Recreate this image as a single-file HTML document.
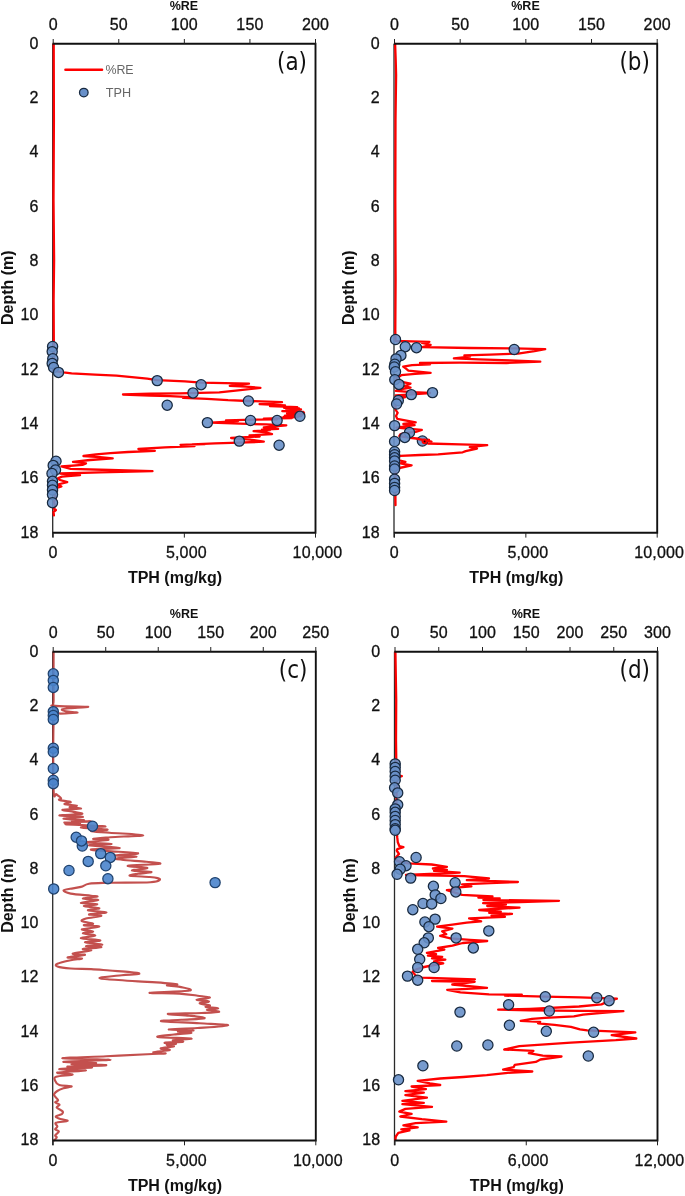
<!DOCTYPE html>
<html><head><meta charset="utf-8"><title>TPH and %RE depth profiles</title>
<style>
html,body{margin:0;padding:0;background:#fff;}
svg{display:block;}
text{font-family:"Liberation Sans",sans-serif;fill:#111;}
.t{font-size:16px;stroke:#111;stroke-width:0.3px;letter-spacing:0.15px;}
.b{font-weight:bold;}
.tag{font-family:"DejaVu Sans","Liberation Sans",sans-serif;font-size:21.5px;fill:#111;}
.lg{font-size:12.4px;fill:#666;}
</style></head><body>
<svg width="685" height="1196" viewBox="0 0 685 1196">
<rect width="685" height="1196" fill="#fff"/>

<g id="panel-a">
<line x1="52.7" y1="43.8" x2="52.7" y2="537.5999999999999" stroke="#2a2a2a" stroke-width="1.3"/>
<polyline points="53.7,43.8 53.9,120.0 53.5,200.0 54.1,260.0 53.6,300.0 53.8,340.0 53.7,370.8 63.4,372.4 71.6,373.4 95.0,374.6 116.5,375.7 147.2,378.7 157.0,380.2 185.0,381.4 201.0,382.6 225.0,383.2 249.0,383.7 229.8,385.8 246.0,386.6 260.4,387.9 240.3,390.1 219.3,392.4 180.0,393.4 150.0,393.6 123.0,394.5 150.0,395.6 170.0,396.2 190.0,397.2 183.0,397.8 207.0,398.9 228.0,400.2 248.5,401.0 282.0,402.1 259.6,404.2 285.0,405.4 270.0,406.2 297.2,407.1 284.0,407.8 299.0,408.4 286.0,408.9 301.0,409.4 288.0,410.0 299.0,410.5 282.3,411.2 303.4,411.8 290.0,412.4 304.0,412.9 287.0,413.5 304.0,414.0 288.0,414.6 302.0,415.1 285.0,415.7 301.0,416.2 284.0,416.7 298.0,417.1 280.0,417.6 292.0,418.0 263.8,418.6 277.0,419.3 245.0,419.8 226.0,420.4 238.0,421.2 210.7,422.7 247.4,423.9 266.0,424.4 286.3,425.3 263.8,427.4 278.1,428.8 262.0,429.6 270.0,430.2 253.6,431.1 266.0,432.4 272.0,434.1 249.5,435.5 259.7,436.5 231.1,438.0 250.0,439.6 263.8,441.7 239.3,442.7 215.0,443.4 192.3,444.3 205.0,444.0 180.5,444.8 194.5,446.2 165.0,447.4 138.4,449.0 154.8,450.9 128.0,452.0 110.4,453.2 96.0,454.4 83.5,456.0 100.0,457.2 112.7,458.4 90.0,460.0 73.0,461.9 86.0,463.4 82.4,464.9 61.4,466.5 70.7,468.9 110.0,470.0 152.5,471.2 100.0,472.4 60.2,473.5 80.0,475.2 62.0,476.6 57.8,478.2 60.0,480.0 67.2,482.2 57.8,484.5 61.4,486.4 55.3,488.5 57.0,491.0 54.3,494.0 55.8,498.0 53.9,502.0 55.1,506.0 53.7,508.5 55.9,510.0 53.5,512.0 53.9,515.3" fill="none" stroke="#ff0000" stroke-width="2.3" stroke-linejoin="round" stroke-linecap="round"/>
<path d="M52.6,43.8 H315.5 V532.8 H52.6" fill="none" stroke="#111" stroke-width="1.9"/>
<line x1="53.20" y1="39.0" x2="53.20" y2="43.8" stroke="#222" stroke-width="1"/>
<text class="t" x="53.20" y="30.0" text-anchor="middle">0</text>
<line x1="118.78" y1="39.0" x2="118.78" y2="43.8" stroke="#222" stroke-width="1"/>
<text class="t" x="118.78" y="30.0" text-anchor="middle">50</text>
<line x1="184.35" y1="39.0" x2="184.35" y2="43.8" stroke="#222" stroke-width="1"/>
<text class="t" x="184.35" y="30.0" text-anchor="middle">100</text>
<line x1="249.93" y1="39.0" x2="249.93" y2="43.8" stroke="#222" stroke-width="1"/>
<text class="t" x="249.93" y="30.0" text-anchor="middle">150</text>
<line x1="315.50" y1="39.0" x2="315.50" y2="43.8" stroke="#222" stroke-width="1"/>
<text class="t" x="315.50" y="30.0" text-anchor="middle">200</text>
<line x1="53.20" y1="532.8" x2="53.20" y2="537.5999999999999" stroke="#222" stroke-width="1"/>
<text class="t" x="53.00" y="558.0" text-anchor="middle">0</text>
<line x1="184.35" y1="532.8" x2="184.35" y2="537.5999999999999" stroke="#222" stroke-width="1"/>
<text class="t" x="186.35" y="558.0" text-anchor="middle">5,000</text>
<line x1="315.50" y1="532.8" x2="315.50" y2="537.5999999999999" stroke="#222" stroke-width="1"/>
<text class="t" x="317.50" y="558.0" text-anchor="middle">10,000</text>
<text class="t" x="38.6" y="48.6" text-anchor="end">0</text>
<text class="t" x="38.6" y="102.9" text-anchor="end">2</text>
<text class="t" x="38.6" y="157.3" text-anchor="end">4</text>
<text class="t" x="38.6" y="211.6" text-anchor="end">6</text>
<text class="t" x="38.6" y="265.9" text-anchor="end">8</text>
<text class="t" x="38.6" y="320.3" text-anchor="end">10</text>
<text class="t" x="38.6" y="374.6" text-anchor="end">12</text>
<text class="t" x="38.6" y="428.9" text-anchor="end">14</text>
<text class="t" x="38.6" y="483.3" text-anchor="end">16</text>
<text class="t" x="38.6" y="537.6" text-anchor="end">18</text>
<text class="b" font-size="12.5" x="183.9" y="10.2" text-anchor="middle">%RE</text>
<text class="b" font-size="16" x="175.0" y="583.3" text-anchor="middle">TPH (mg/kg)</text>
<text class="b" font-size="16" transform="translate(13.0,287.7) rotate(-90)" text-anchor="middle">Depth (m)</text>
<text class="tag" transform="translate(277.0,69.8) scale(1,1.13)">(a)</text>
<circle cx="52.6" cy="346.5" r="5.1" fill="#6890c9" fill-opacity="0.9" stroke="#17293f" stroke-width="1.25"/>
<circle cx="52.2" cy="351.6" r="5.1" fill="#6890c9" fill-opacity="0.9" stroke="#17293f" stroke-width="1.25"/>
<circle cx="52.8" cy="358.7" r="5.1" fill="#6890c9" fill-opacity="0.9" stroke="#17293f" stroke-width="1.25"/>
<circle cx="52.2" cy="363.4" r="5.1" fill="#6890c9" fill-opacity="0.9" stroke="#17293f" stroke-width="1.25"/>
<circle cx="53.6" cy="367.5" r="5.1" fill="#6890c9" fill-opacity="0.9" stroke="#17293f" stroke-width="1.25"/>
<circle cx="58.5" cy="372.4" r="5.1" fill="#6890c9" fill-opacity="0.9" stroke="#17293f" stroke-width="1.25"/>
<circle cx="157.2" cy="380.6" r="5.1" fill="#6890c9" fill-opacity="0.9" stroke="#17293f" stroke-width="1.25"/>
<circle cx="201.1" cy="384.7" r="5.1" fill="#6890c9" fill-opacity="0.9" stroke="#17293f" stroke-width="1.25"/>
<circle cx="193.0" cy="392.9" r="5.1" fill="#6890c9" fill-opacity="0.9" stroke="#17293f" stroke-width="1.25"/>
<circle cx="167.2" cy="405.2" r="5.1" fill="#6890c9" fill-opacity="0.9" stroke="#17293f" stroke-width="1.25"/>
<circle cx="248.4" cy="401.0" r="5.1" fill="#6890c9" fill-opacity="0.9" stroke="#17293f" stroke-width="1.25"/>
<circle cx="299.9" cy="416.3" r="5.1" fill="#6890c9" fill-opacity="0.9" stroke="#17293f" stroke-width="1.25"/>
<circle cx="277.1" cy="420.5" r="5.1" fill="#6890c9" fill-opacity="0.9" stroke="#17293f" stroke-width="1.25"/>
<circle cx="250.5" cy="420.5" r="5.1" fill="#6890c9" fill-opacity="0.9" stroke="#17293f" stroke-width="1.25"/>
<circle cx="207.4" cy="422.6" r="5.1" fill="#6890c9" fill-opacity="0.9" stroke="#17293f" stroke-width="1.25"/>
<circle cx="239.3" cy="441.1" r="5.1" fill="#6890c9" fill-opacity="0.9" stroke="#17293f" stroke-width="1.25"/>
<circle cx="279.1" cy="445.2" r="5.1" fill="#6890c9" fill-opacity="0.9" stroke="#17293f" stroke-width="1.25"/>
<circle cx="56.0" cy="461.2" r="5.1" fill="#6890c9" fill-opacity="0.9" stroke="#17293f" stroke-width="1.25"/>
<circle cx="53.2" cy="465.4" r="5.1" fill="#6890c9" fill-opacity="0.9" stroke="#17293f" stroke-width="1.25"/>
<circle cx="55.5" cy="470.0" r="5.1" fill="#6890c9" fill-opacity="0.9" stroke="#17293f" stroke-width="1.25"/>
<circle cx="52.0" cy="473.5" r="5.1" fill="#6890c9" fill-opacity="0.9" stroke="#17293f" stroke-width="1.25"/>
<circle cx="52.5" cy="481.3" r="5.1" fill="#6890c9" fill-opacity="0.9" stroke="#17293f" stroke-width="1.25"/>
<circle cx="52.5" cy="485.2" r="5.1" fill="#6890c9" fill-opacity="0.9" stroke="#17293f" stroke-width="1.25"/>
<circle cx="52.5" cy="489.9" r="5.1" fill="#6890c9" fill-opacity="0.9" stroke="#17293f" stroke-width="1.25"/>
<circle cx="52.5" cy="494.6" r="5.1" fill="#6890c9" fill-opacity="0.9" stroke="#17293f" stroke-width="1.25"/>
<circle cx="52.5" cy="502.7" r="5.1" fill="#6890c9" fill-opacity="0.9" stroke="#17293f" stroke-width="1.25"/>
</g>
<g id="panel-b">
<line x1="394.0" y1="43.8" x2="394.0" y2="537.5999999999999" stroke="#2a2a2a" stroke-width="1.3"/>
<polyline points="395.1,43.8 395.7,60.0 396.1,75.0 395.5,120.0 395.3,200.0 395.6,280.0 395.3,330.0 395.5,341.0 412.0,341.4 429.4,341.8 422.0,343.0 430.6,344.9 422.4,347.2 470.0,348.0 514.0,348.4 545.2,349.1 534.5,351.2 518.0,353.6 490.0,354.6 464.4,355.4 470.0,356.6 453.9,358.4 478.4,359.3 510.0,360.4 540.3,361.7 506.5,363.0 460.0,362.6 420.0,363.0 430.0,364.4 412.0,365.2 403.2,366.6 406.0,368.6 408.4,370.6 430.6,372.9 415.0,373.8 401.4,375.2 396.5,378.0 397.0,381.0 410.5,383.6 404.4,386.2 410.5,387.7 400.0,389.4 395.7,390.9 412.0,392.2 430.0,393.0 412.0,394.4 395.7,395.4 405.4,397.1 395.9,399.0 395.5,409.7 397.7,412.8 396.0,416.0 397.3,418.9 415.7,422.4 403.4,424.0 414.6,425.1 396.5,427.7 410.0,428.8 421.8,429.8 415.7,431.8 404.0,433.2 400.3,434.3 399.3,436.0 412.0,438.0 429.0,440.0 422.0,441.6 427.9,443.5 460.0,444.3 487.2,445.1 469.8,447.2 477.0,448.6 465.7,451.1 462.7,452.3 450.0,453.4 438.1,454.3 420.0,455.0 400.3,455.8 396.1,458.0 398.0,460.0 405.4,461.9 400.3,463.3 411.6,465.4 399.3,468.0 395.7,470.0 395.3,485.0 395.5,505.2" fill="none" stroke="#ff0000" stroke-width="2.3" stroke-linejoin="round" stroke-linecap="round"/>
<path d="M393.9,43.8 H657.2 V532.8 H393.9" fill="none" stroke="#111" stroke-width="1.9"/>
<line x1="394.50" y1="39.0" x2="394.50" y2="43.8" stroke="#222" stroke-width="1"/>
<text class="t" x="394.50" y="30.0" text-anchor="middle">0</text>
<line x1="460.18" y1="39.0" x2="460.18" y2="43.8" stroke="#222" stroke-width="1"/>
<text class="t" x="460.18" y="30.0" text-anchor="middle">50</text>
<line x1="525.85" y1="39.0" x2="525.85" y2="43.8" stroke="#222" stroke-width="1"/>
<text class="t" x="525.85" y="30.0" text-anchor="middle">100</text>
<line x1="591.53" y1="39.0" x2="591.53" y2="43.8" stroke="#222" stroke-width="1"/>
<text class="t" x="591.53" y="30.0" text-anchor="middle">150</text>
<line x1="657.20" y1="39.0" x2="657.20" y2="43.8" stroke="#222" stroke-width="1"/>
<text class="t" x="657.20" y="30.0" text-anchor="middle">200</text>
<line x1="394.50" y1="532.8" x2="394.50" y2="537.5999999999999" stroke="#222" stroke-width="1"/>
<text class="t" x="394.30" y="558.0" text-anchor="middle">0</text>
<line x1="525.85" y1="532.8" x2="525.85" y2="537.5999999999999" stroke="#222" stroke-width="1"/>
<text class="t" x="527.85" y="558.0" text-anchor="middle">5,000</text>
<line x1="657.20" y1="532.8" x2="657.20" y2="537.5999999999999" stroke="#222" stroke-width="1"/>
<text class="t" x="659.20" y="558.0" text-anchor="middle">10,000</text>
<text class="t" x="379.9" y="48.6" text-anchor="end">0</text>
<text class="t" x="379.9" y="102.9" text-anchor="end">2</text>
<text class="t" x="379.9" y="157.3" text-anchor="end">4</text>
<text class="t" x="379.9" y="211.6" text-anchor="end">6</text>
<text class="t" x="379.9" y="265.9" text-anchor="end">8</text>
<text class="t" x="379.9" y="320.3" text-anchor="end">10</text>
<text class="t" x="379.9" y="374.6" text-anchor="end">12</text>
<text class="t" x="379.9" y="428.9" text-anchor="end">14</text>
<text class="t" x="379.9" y="483.3" text-anchor="end">16</text>
<text class="t" x="379.9" y="537.6" text-anchor="end">18</text>
<text class="b" font-size="12.5" x="525.5" y="10.2" text-anchor="middle">%RE</text>
<text class="b" font-size="16" x="516.3" y="583.3" text-anchor="middle">TPH (mg/kg)</text>
<text class="b" font-size="16" transform="translate(354.3,287.7) rotate(-90)" text-anchor="middle">Depth (m)</text>
<text class="tag" transform="translate(619.4,69.8) scale(1,1.13)">(b)</text>
<circle cx="395.5" cy="339.5" r="5.1" fill="#6890c9" fill-opacity="0.9" stroke="#17293f" stroke-width="1.25"/>
<circle cx="405.3" cy="346.7" r="5.1" fill="#6890c9" fill-opacity="0.9" stroke="#17293f" stroke-width="1.25"/>
<circle cx="416.5" cy="347.7" r="5.1" fill="#6890c9" fill-opacity="0.9" stroke="#17293f" stroke-width="1.25"/>
<circle cx="514.2" cy="349.5" r="5.1" fill="#6890c9" fill-opacity="0.9" stroke="#17293f" stroke-width="1.25"/>
<circle cx="400.9" cy="355.4" r="5.1" fill="#6890c9" fill-opacity="0.9" stroke="#17293f" stroke-width="1.25"/>
<circle cx="396.0" cy="358.9" r="5.1" fill="#6890c9" fill-opacity="0.9" stroke="#17293f" stroke-width="1.25"/>
<circle cx="394.8" cy="364.2" r="5.1" fill="#6890c9" fill-opacity="0.9" stroke="#17293f" stroke-width="1.25"/>
<circle cx="394.3" cy="367.0" r="5.1" fill="#6890c9" fill-opacity="0.9" stroke="#17293f" stroke-width="1.25"/>
<circle cx="395.5" cy="371.7" r="5.1" fill="#6890c9" fill-opacity="0.9" stroke="#17293f" stroke-width="1.25"/>
<circle cx="394.8" cy="379.7" r="5.1" fill="#6890c9" fill-opacity="0.9" stroke="#17293f" stroke-width="1.25"/>
<circle cx="399.0" cy="384.4" r="5.1" fill="#6890c9" fill-opacity="0.9" stroke="#17293f" stroke-width="1.25"/>
<circle cx="411.3" cy="394.6" r="5.1" fill="#6890c9" fill-opacity="0.9" stroke="#17293f" stroke-width="1.25"/>
<circle cx="432.5" cy="392.6" r="5.1" fill="#6890c9" fill-opacity="0.9" stroke="#17293f" stroke-width="1.25"/>
<circle cx="398.3" cy="400.5" r="5.1" fill="#6890c9" fill-opacity="0.9" stroke="#17293f" stroke-width="1.25"/>
<circle cx="396.6" cy="404.0" r="5.1" fill="#6890c9" fill-opacity="0.9" stroke="#17293f" stroke-width="1.25"/>
<circle cx="394.6" cy="425.6" r="5.1" fill="#6890c9" fill-opacity="0.9" stroke="#17293f" stroke-width="1.25"/>
<circle cx="409.5" cy="432.5" r="5.1" fill="#6890c9" fill-opacity="0.9" stroke="#17293f" stroke-width="1.25"/>
<circle cx="404.8" cy="437.4" r="5.1" fill="#6890c9" fill-opacity="0.9" stroke="#17293f" stroke-width="1.25"/>
<circle cx="394.6" cy="441.5" r="5.1" fill="#6890c9" fill-opacity="0.9" stroke="#17293f" stroke-width="1.25"/>
<circle cx="422.4" cy="441.0" r="5.1" fill="#6890c9" fill-opacity="0.9" stroke="#17293f" stroke-width="1.25"/>
<circle cx="394.6" cy="451.7" r="5.1" fill="#6890c9" fill-opacity="0.9" stroke="#17293f" stroke-width="1.25"/>
<circle cx="394.6" cy="454.7" r="5.1" fill="#6890c9" fill-opacity="0.9" stroke="#17293f" stroke-width="1.25"/>
<circle cx="394.6" cy="457.8" r="5.1" fill="#6890c9" fill-opacity="0.9" stroke="#17293f" stroke-width="1.25"/>
<circle cx="394.6" cy="460.9" r="5.1" fill="#6890c9" fill-opacity="0.9" stroke="#17293f" stroke-width="1.25"/>
<circle cx="394.6" cy="466.0" r="5.1" fill="#6890c9" fill-opacity="0.9" stroke="#17293f" stroke-width="1.25"/>
<circle cx="394.6" cy="469.0" r="5.1" fill="#6890c9" fill-opacity="0.9" stroke="#17293f" stroke-width="1.25"/>
<circle cx="394.6" cy="479.3" r="5.1" fill="#6890c9" fill-opacity="0.9" stroke="#17293f" stroke-width="1.25"/>
<circle cx="394.6" cy="483.4" r="5.1" fill="#6890c9" fill-opacity="0.9" stroke="#17293f" stroke-width="1.25"/>
<circle cx="394.6" cy="487.4" r="5.1" fill="#6890c9" fill-opacity="0.9" stroke="#17293f" stroke-width="1.25"/>
<circle cx="394.6" cy="490.5" r="5.1" fill="#6890c9" fill-opacity="0.9" stroke="#17293f" stroke-width="1.25"/>
<path d="M417.5,438.9 L424,440.2 L431.5,441.6" fill="none" stroke="#ff0000" stroke-width="2.3" stroke-linecap="round"/>
<circle cx="424.6" cy="441.3" r="2.9" fill="#ff0000"/><circle cx="424.6" cy="441.4" r="0.9" fill="#200000"/>
</g>
<g id="panel-c">
<line x1="52.7" y1="651.8" x2="52.7" y2="1145.3" stroke="#2a2a2a" stroke-width="1.3"/>
<path d="M53.6,651.8C53.6,659.8 53.5,691.0 53.6,700.0C53.7,709.0 48.3,704.5 54.0,705.6C59.7,706.7 85.2,706.4 87.9,706.8C90.6,707.2 74.3,707.8 70.0,708.2C65.7,708.6 62.7,708.9 62.0,709.4C61.3,709.9 63.4,710.9 66.0,711.4C68.6,711.9 78.4,712.2 77.4,712.6C76.4,713.0 63.9,713.2 60.0,713.6C56.1,714.0 55.1,702.3 54.0,715.0C52.9,727.7 53.2,776.4 53.6,789.6C54.0,802.8 55.2,792.8 56.4,794.2C57.6,795.6 60.5,797.2 61.0,798.2C61.5,799.2 57.8,799.4 59.4,800.0C61.0,800.6 69.9,801.3 70.7,802.0C71.5,802.7 63.5,803.5 64.5,804.1C65.5,804.7 76.0,805.2 76.8,805.7C77.6,806.2 68.9,806.7 69.6,807.2C70.3,807.7 82.1,808.2 80.9,808.6C79.7,809.0 63.7,809.2 62.5,809.8C61.3,810.3 70.5,811.2 73.7,811.9C76.9,812.6 84.3,813.3 81.9,813.9C79.5,814.5 59.2,815.0 59.4,815.5C59.6,816.0 82.2,816.2 82.9,816.8C83.6,817.3 63.3,818.3 63.5,818.8C63.7,819.3 82.5,819.7 83.9,820.0C85.3,820.3 70.8,820.5 72.0,820.8C73.2,821.0 92.3,821.2 91.1,821.5C89.8,821.8 66.3,822.2 64.5,822.5C62.6,822.8 79.8,823.1 80.0,823.4C80.2,823.7 64.2,823.8 65.5,824.1C66.8,824.4 81.3,825.0 88.0,825.4C94.7,825.8 106.6,826.2 105.4,826.6C104.2,827.0 80.6,827.1 80.9,827.6C81.2,828.1 105.7,829.0 107.4,829.6C109.1,830.2 90.8,830.6 91.1,831.1C91.4,831.6 100.8,832.0 109.5,832.7C118.2,833.4 143.0,834.5 143.2,835.2C143.4,836.0 118.8,836.6 110.5,837.2C102.2,837.8 93.4,838.3 93.1,838.8C92.8,839.2 109.7,839.3 108.5,839.9C107.3,840.5 85.5,841.8 86.0,842.5C86.5,843.2 111.0,843.4 111.5,843.9C112.0,844.4 87.6,844.7 89.0,845.4C90.4,846.1 119.4,847.3 119.7,848.0C120.0,848.7 93.1,849.0 91.1,849.5C89.0,850.0 99.6,850.5 107.4,851.1C115.2,851.7 136.9,852.6 138.1,853.3C139.3,854.0 114.9,854.8 114.6,855.3C114.3,855.8 136.3,855.9 136.5,856.5C136.7,857.1 114.0,858.0 115.6,858.9C117.2,859.8 138.9,861.0 146.3,861.8C153.7,862.6 162.9,863.1 159.8,863.8C156.7,864.5 130.0,865.1 127.9,865.8C125.8,866.5 146.6,867.1 147.3,867.9C148.0,868.7 131.3,869.8 132.0,870.5C132.7,871.2 150.4,871.5 151.4,872.0C152.4,872.5 141.6,873.2 138.0,873.8C134.4,874.4 127.9,875.2 129.9,875.7C131.9,876.2 145.4,876.6 150.0,877.0C154.6,877.4 155.9,877.6 157.5,878.1C159.1,878.6 160.8,879.3 159.6,880.0C158.4,880.7 159.1,881.7 150.4,882.2C141.7,882.7 117.6,882.5 107.4,882.8C97.2,883.1 93.4,883.1 89.0,883.8C84.6,884.5 84.1,886.1 80.9,886.9C77.7,887.7 72.9,888.2 70.0,888.8C67.1,889.4 63.4,889.6 63.5,890.4C63.6,891.2 66.1,892.7 70.7,893.6C75.3,894.5 86.7,895.2 91.1,895.7C95.5,896.2 98.6,896.1 97.2,896.6C95.8,897.1 82.7,898.1 82.9,898.7C83.1,899.3 98.5,899.4 98.2,900.1C97.9,900.8 81.1,902.1 80.9,902.8C80.7,903.5 96.7,903.6 97.2,904.2C97.7,904.8 83.6,905.5 83.9,906.2C84.2,906.9 98.6,907.6 99.3,908.3C100.0,909.0 86.8,909.6 88.0,910.3C89.2,911.0 106.2,911.7 106.4,912.4C106.6,913.1 89.8,913.8 89.0,914.4C88.2,915.0 101.8,915.1 101.3,915.8C100.8,916.5 89.2,917.6 86.0,918.5C82.8,919.4 80.7,920.4 81.9,921.2C83.1,922.1 92.8,922.9 93.1,923.6C93.4,924.3 82.9,924.7 83.9,925.2C84.9,925.7 99.6,926.0 99.3,926.7C99.0,927.4 82.9,928.5 81.9,929.3C80.9,930.1 92.9,930.7 93.1,931.4C93.3,932.1 82.6,932.7 82.9,933.4C83.2,934.1 95.5,934.7 95.2,935.5C94.9,936.3 80.1,937.5 80.9,938.3C81.8,939.1 99.6,939.7 100.3,940.4C101.0,941.1 84.7,941.7 85.0,942.4C85.3,943.1 102.1,943.9 102.3,944.5C102.5,945.1 86.2,945.6 86.0,946.1C85.8,946.6 101.8,946.7 101.3,947.2C100.8,947.7 84.6,948.5 82.9,949.0C81.2,949.5 92.8,949.5 91.1,950.3C89.4,951.1 73.7,952.9 72.7,953.6C71.7,954.4 85.8,954.2 85.0,954.8C84.2,955.4 68.1,956.8 67.6,957.4C67.1,958.0 81.5,957.9 82.0,958.4C82.5,958.9 74.8,959.4 70.7,960.3C66.6,961.2 59.6,962.8 57.4,963.8C55.2,964.8 55.2,965.7 57.4,966.5C59.6,967.3 65.1,968.1 70.7,968.5C76.3,968.9 84.6,968.8 91.1,969.1C97.6,969.4 103.0,970.0 109.5,970.5C116.0,971.0 125.0,971.5 129.9,972.0C134.8,972.5 140.4,973.3 139.1,973.8C137.8,974.3 128.3,974.6 121.8,975.2C115.3,975.9 102.7,977.0 100.3,977.7C97.9,978.4 101.1,978.7 107.4,979.3C113.7,979.9 129.9,980.9 138.1,981.4C146.3,981.9 150.0,981.9 156.5,982.4C163.0,982.9 175.4,983.9 177.2,984.4C178.9,984.9 166.5,985.0 167.0,985.4C167.5,985.8 176.2,986.0 180.0,986.9C183.8,987.8 194.6,989.5 189.5,990.5C184.4,991.5 151.3,992.3 149.6,992.8C147.9,993.3 171.3,993.1 179.3,993.6C187.3,994.1 192.6,995.0 197.7,995.7C202.8,996.4 210.1,997.0 209.9,997.7C209.7,998.4 196.8,999.1 196.6,999.7C196.4,1000.3 208.4,1000.8 208.9,1001.4C209.4,1002.0 199.5,1002.7 199.7,1003.4C199.9,1004.1 208.9,1004.9 209.9,1005.5C210.9,1006.1 204.4,1006.4 205.8,1006.9C207.2,1007.4 217.9,1007.8 218.1,1008.3C218.3,1008.8 206.7,1009.4 206.9,1010.0C207.1,1010.6 220.0,1011.3 219.1,1011.8C218.2,1012.3 210.2,1012.6 201.7,1013.0C193.2,1013.4 170.1,1013.4 168.0,1013.9C165.9,1014.4 183.2,1015.0 189.3,1015.7C195.4,1016.4 205.9,1017.5 204.6,1018.2C203.3,1018.9 188.5,1019.3 181.3,1019.8C174.1,1020.3 158.3,1020.6 161.3,1021.2C164.3,1021.8 188.4,1022.6 199.5,1023.3C210.6,1024.0 228.4,1024.5 228.1,1025.3C227.8,1026.1 207.3,1027.3 197.4,1028.0C187.5,1028.7 169.5,1029.0 168.8,1029.4C168.1,1029.8 191.9,1030.0 193.4,1030.4C194.9,1030.8 178.3,1031.2 178.0,1031.6C177.7,1032.0 192.0,1032.4 191.3,1032.9C190.6,1033.4 179.5,1033.8 173.9,1034.5C168.3,1035.2 154.7,1036.3 157.6,1037.0C160.5,1037.7 188.8,1038.1 191.3,1038.6C193.9,1039.1 174.3,1039.7 172.9,1040.2C171.5,1040.7 184.5,1041.2 183.1,1041.6C181.7,1042.0 165.9,1042.4 164.7,1042.8C163.5,1043.2 175.7,1043.4 176.0,1043.8C176.3,1044.2 167.2,1044.5 166.8,1044.9C166.5,1045.3 174.9,1045.8 173.9,1046.4C172.9,1047.0 161.4,1047.8 160.7,1048.4C160.0,1049.0 170.9,1049.5 169.7,1050.1C168.5,1050.7 154.0,1051.7 153.3,1052.2C152.6,1052.8 166.6,1053.1 165.6,1053.4C164.6,1053.7 157.1,1053.7 147.2,1054.2C137.3,1054.7 120.4,1055.5 106.3,1056.2C92.2,1056.9 61.7,1057.7 62.4,1058.3C63.1,1058.9 110.2,1059.1 110.4,1059.7C110.6,1060.3 65.8,1061.2 63.4,1061.8C61.0,1062.3 94.7,1062.6 96.1,1063.0C97.5,1063.4 69.9,1063.8 71.6,1064.2C73.3,1064.6 107.0,1064.8 106.3,1065.2C105.6,1065.6 69.9,1066.2 67.5,1066.6C65.1,1067.0 93.4,1067.0 92.0,1067.4C90.6,1067.8 60.3,1068.6 59.3,1069.1C58.3,1069.6 86.2,1069.9 85.9,1070.5C85.6,1071.1 59.5,1071.9 57.3,1072.6C55.1,1073.3 72.8,1073.9 72.6,1074.6C72.4,1075.3 59.1,1075.7 56.2,1076.7C53.3,1077.7 54.7,1079.4 55.2,1080.8C55.7,1082.2 56.6,1084.0 59.3,1084.9C62.0,1085.8 70.9,1085.7 71.6,1086.3C72.3,1086.9 65.8,1087.5 63.4,1088.3C61.0,1089.1 58.8,1090.0 57.3,1091.0C55.8,1092.0 54.7,1093.2 54.2,1094.0C53.7,1094.8 53.9,1094.8 54.5,1095.8C55.1,1096.8 58.0,1099.1 58.1,1100.2C58.2,1101.3 55.0,1101.7 55.2,1102.4C55.5,1103.1 59.4,1103.8 59.6,1104.6C59.9,1105.4 56.2,1106.4 56.7,1107.5C57.2,1108.6 61.6,1110.1 62.5,1111.2C63.4,1112.3 62.9,1113.2 61.8,1114.1C60.7,1114.9 56.4,1115.6 55.9,1116.3C55.4,1117.0 57.0,1117.7 58.9,1118.5C60.8,1119.3 68.1,1120.2 67.6,1120.9C67.1,1121.6 57.6,1121.9 55.9,1122.8C54.2,1123.7 57.5,1125.4 57.4,1126.5C57.3,1127.6 55.0,1128.6 55.2,1129.4C55.5,1130.2 58.9,1130.6 58.9,1131.6C58.9,1132.6 55.6,1134.3 55.2,1135.3C54.8,1136.3 56.9,1136.6 56.7,1137.4C56.5,1138.2 54.5,1139.9 54.0,1140.4" fill="none" stroke="#bd3d3b" stroke-width="2.15" stroke-linejoin="round" stroke-linecap="round" stroke-opacity="0.9"/>
<path d="M52.6,651.8 H315.8 V1140.5 H52.6" fill="none" stroke="#111" stroke-width="1.9"/>
<line x1="53.20" y1="647.0" x2="53.20" y2="651.8" stroke="#222" stroke-width="1"/>
<text class="t" x="53.20" y="638.0" text-anchor="middle">0</text>
<line x1="105.72" y1="647.0" x2="105.72" y2="651.8" stroke="#222" stroke-width="1"/>
<text class="t" x="105.72" y="638.0" text-anchor="middle">50</text>
<line x1="158.24" y1="647.0" x2="158.24" y2="651.8" stroke="#222" stroke-width="1"/>
<text class="t" x="158.24" y="638.0" text-anchor="middle">100</text>
<line x1="210.76" y1="647.0" x2="210.76" y2="651.8" stroke="#222" stroke-width="1"/>
<text class="t" x="210.76" y="638.0" text-anchor="middle">150</text>
<line x1="263.28" y1="647.0" x2="263.28" y2="651.8" stroke="#222" stroke-width="1"/>
<text class="t" x="263.28" y="638.0" text-anchor="middle">200</text>
<line x1="315.80" y1="647.0" x2="315.80" y2="651.8" stroke="#222" stroke-width="1"/>
<text class="t" x="315.80" y="638.0" text-anchor="middle">250</text>
<line x1="53.20" y1="1140.5" x2="53.20" y2="1145.3" stroke="#222" stroke-width="1"/>
<text class="t" x="53.00" y="1165.7" text-anchor="middle">0</text>
<line x1="184.50" y1="1140.5" x2="184.50" y2="1145.3" stroke="#222" stroke-width="1"/>
<text class="t" x="186.50" y="1165.7" text-anchor="middle">5,000</text>
<line x1="315.80" y1="1140.5" x2="315.80" y2="1145.3" stroke="#222" stroke-width="1"/>
<text class="t" x="317.80" y="1165.7" text-anchor="middle">10,000</text>
<text class="t" x="38.6" y="656.6" text-anchor="end">0</text>
<text class="t" x="38.6" y="710.9" text-anchor="end">2</text>
<text class="t" x="38.6" y="765.2" text-anchor="end">4</text>
<text class="t" x="38.6" y="819.5" text-anchor="end">6</text>
<text class="t" x="38.6" y="873.8" text-anchor="end">8</text>
<text class="t" x="38.6" y="928.1" text-anchor="end">10</text>
<text class="t" x="38.6" y="982.4" text-anchor="end">12</text>
<text class="t" x="38.6" y="1036.7" text-anchor="end">14</text>
<text class="t" x="38.6" y="1091.0" text-anchor="end">16</text>
<text class="t" x="38.6" y="1145.3" text-anchor="end">18</text>
<text class="b" font-size="12.5" x="184.1" y="618.2" text-anchor="middle">%RE</text>
<text class="b" font-size="16" x="175.0" y="1191.0" text-anchor="middle">TPH (mg/kg)</text>
<text class="b" font-size="16" transform="translate(13.0,895.5) rotate(-90)" text-anchor="middle">Depth (m)</text>
<text class="tag" transform="translate(278.8,677.8) scale(1,1.13)">(c)</text>
<circle cx="53.3" cy="673.8" r="5.1" fill="#4a84cc" fill-opacity="0.9" stroke="#1f426e" stroke-width="1.25"/>
<circle cx="53.3" cy="680.4" r="5.1" fill="#4a84cc" fill-opacity="0.9" stroke="#1f426e" stroke-width="1.25"/>
<circle cx="53.3" cy="687.4" r="5.1" fill="#4a84cc" fill-opacity="0.9" stroke="#1f426e" stroke-width="1.25"/>
<circle cx="53.3" cy="711.6" r="5.1" fill="#4a84cc" fill-opacity="0.9" stroke="#1f426e" stroke-width="1.25"/>
<circle cx="53.3" cy="715.4" r="5.1" fill="#4a84cc" fill-opacity="0.9" stroke="#1f426e" stroke-width="1.25"/>
<circle cx="53.3" cy="719.4" r="5.1" fill="#4a84cc" fill-opacity="0.9" stroke="#1f426e" stroke-width="1.25"/>
<circle cx="53.3" cy="748.2" r="5.1" fill="#4a84cc" fill-opacity="0.9" stroke="#1f426e" stroke-width="1.25"/>
<circle cx="53.3" cy="752.0" r="5.1" fill="#4a84cc" fill-opacity="0.9" stroke="#1f426e" stroke-width="1.25"/>
<circle cx="53.3" cy="768.5" r="5.1" fill="#4a84cc" fill-opacity="0.9" stroke="#1f426e" stroke-width="1.25"/>
<circle cx="53.3" cy="780.2" r="5.1" fill="#4a84cc" fill-opacity="0.9" stroke="#1f426e" stroke-width="1.25"/>
<circle cx="53.3" cy="783.7" r="5.1" fill="#4a84cc" fill-opacity="0.9" stroke="#1f426e" stroke-width="1.25"/>
<circle cx="92.5" cy="826.2" r="5.1" fill="#4a84cc" fill-opacity="0.9" stroke="#1f426e" stroke-width="1.25"/>
<circle cx="76.2" cy="837.2" r="5.1" fill="#4a84cc" fill-opacity="0.9" stroke="#1f426e" stroke-width="1.25"/>
<circle cx="82.3" cy="846.0" r="5.1" fill="#4a84cc" fill-opacity="0.9" stroke="#1f426e" stroke-width="1.25"/>
<circle cx="81.5" cy="840.9" r="5.1" fill="#4a84cc" fill-opacity="0.9" stroke="#1f426e" stroke-width="1.25"/>
<circle cx="100.7" cy="853.6" r="5.1" fill="#4a84cc" fill-opacity="0.9" stroke="#1f426e" stroke-width="1.25"/>
<circle cx="110.3" cy="857.4" r="5.1" fill="#4a84cc" fill-opacity="0.9" stroke="#1f426e" stroke-width="1.25"/>
<circle cx="88.2" cy="861.4" r="5.1" fill="#4a84cc" fill-opacity="0.9" stroke="#1f426e" stroke-width="1.25"/>
<circle cx="105.8" cy="865.8" r="5.1" fill="#4a84cc" fill-opacity="0.9" stroke="#1f426e" stroke-width="1.25"/>
<circle cx="69.0" cy="870.5" r="5.1" fill="#4a84cc" fill-opacity="0.9" stroke="#1f426e" stroke-width="1.25"/>
<circle cx="107.9" cy="878.7" r="5.1" fill="#4a84cc" fill-opacity="0.9" stroke="#1f426e" stroke-width="1.25"/>
<circle cx="53.7" cy="888.9" r="5.1" fill="#4a84cc" fill-opacity="0.9" stroke="#1f426e" stroke-width="1.25"/>
<circle cx="215.1" cy="882.6" r="5.1" fill="#4a84cc" fill-opacity="0.9" stroke="#1f426e" stroke-width="1.25"/>
</g>
<g id="panel-d">
<line x1="394.5" y1="651.8" x2="394.5" y2="1145.3" stroke="#2a2a2a" stroke-width="1.3"/>
<polyline points="395.4,651.8 396.2,700.0 396.0,740.0 396.4,770.0 397.0,775.0 401.8,776.2 397.0,777.6 396.4,800.0 396.6,830.0 397.3,837.9 397.8,842.3 399.3,846.0 403.4,847.1 397.3,849.1 396.7,850.5 399.0,854.0 395.8,857.5 397.0,861.0 408.4,863.4 431.7,864.5 446.9,866.9 432.9,868.5 446.9,869.9 434.0,870.8 459.7,872.7 430.0,874.0 406.0,875.0 440.0,875.7 464.4,876.2 489.0,878.5 466.8,880.2 495.0,881.2 517.9,882.0 490.0,883.2 462.1,884.4 471.4,886.3 452.7,887.9 458.0,889.0 446.9,890.2 455.0,892.6 462.1,894.9 492.5,896.5 478.4,897.6 499.7,898.4 483.4,900.0 559.0,900.8 520.0,902.0 483.1,903.2 505.9,904.6 487.2,906.0 519.5,907.6 495.0,909.0 479.2,910.0 500.8,911.7 489.2,912.8 512.0,913.9 491.5,915.6 504.9,916.8 469.1,918.4 481.1,921.4 466.7,922.6 452.4,924.6 437.1,926.7 452.4,928.7 442.2,931.4 446.3,934.2 440.2,935.9 450.4,938.3 470.0,939.8 487.2,941.0 462.7,943.0 452.4,945.7 438.1,948.0 444.3,949.6 426.9,952.8 436.1,954.2 427.9,955.6 442.2,956.9 432.0,958.3 445.3,959.7 434.0,961.3 443.2,963.4 434.0,965.0 421.8,967.5 415.7,969.5 412.6,971.6 415.7,975.7 421.8,977.7 474.9,979.3 432.0,981.0 474.7,981.8 452.3,984.5 487.0,987.8 447.2,989.8 460.4,992.3 489.0,994.4 521.8,994.7 505.0,995.6 545.0,996.6 580.0,997.4 616.9,998.7 608.0,1001.5 601.5,1004.4 579.0,1006.5 530.0,1008.8 498.2,1009.6 530.0,1010.4 580.0,1010.9 623.4,1011.2 599.5,1013.2 583.1,1014.6 573.9,1016.4 545.0,1017.8 532.0,1018.8 520.7,1020.9 540.2,1021.8 538.1,1023.3 554.5,1024.9 570.9,1026.9 580.0,1029.4 587.2,1030.4 635.3,1032.4 611.7,1035.1 625.0,1037.0 636.3,1038.5 615.8,1040.2 570.9,1042.7 545.1,1044.3 519.4,1046.2 504.2,1049.5 533.4,1050.9 528.8,1053.2 542.8,1055.6 561.5,1056.5 540.4,1059.5 535.8,1061.9 514.7,1064.9 513.6,1067.2 503.1,1069.6 532.3,1071.5 507.7,1072.8 486.7,1075.2 463.4,1077.0 440.2,1078.5 417.7,1080.9 430.0,1083.4 440.2,1085.0 411.6,1086.5 425.9,1089.1 405.4,1091.2 423.8,1092.6 405.4,1095.2 426.9,1097.7 402.4,1100.8 423.8,1102.8 402.4,1104.2 432.0,1106.9 405.4,1108.9 399.3,1111.6 411.6,1114.0 400.3,1116.5 421.8,1119.2 446.3,1121.6 415.7,1123.2 403.4,1125.3 417.7,1127.3 401.3,1129.4 409.5,1130.4 398.3,1132.9 395.8,1136.5 395.4,1139.8" fill="none" stroke="#ff0000" stroke-width="2.3" stroke-linejoin="round" stroke-linecap="round"/>
<path d="M394.4,651.8 H657.5 V1140.5 H394.4" fill="none" stroke="#111" stroke-width="1.9"/>
<line x1="395.00" y1="647.0" x2="395.00" y2="651.8" stroke="#222" stroke-width="1"/>
<text class="t" x="395.00" y="638.0" text-anchor="middle">0</text>
<line x1="438.75" y1="647.0" x2="438.75" y2="651.8" stroke="#222" stroke-width="1"/>
<text class="t" x="438.75" y="638.0" text-anchor="middle">50</text>
<line x1="482.50" y1="647.0" x2="482.50" y2="651.8" stroke="#222" stroke-width="1"/>
<text class="t" x="482.50" y="638.0" text-anchor="middle">100</text>
<line x1="526.25" y1="647.0" x2="526.25" y2="651.8" stroke="#222" stroke-width="1"/>
<text class="t" x="526.25" y="638.0" text-anchor="middle">150</text>
<line x1="570.00" y1="647.0" x2="570.00" y2="651.8" stroke="#222" stroke-width="1"/>
<text class="t" x="570.00" y="638.0" text-anchor="middle">200</text>
<line x1="613.75" y1="647.0" x2="613.75" y2="651.8" stroke="#222" stroke-width="1"/>
<text class="t" x="613.75" y="638.0" text-anchor="middle">250</text>
<line x1="657.50" y1="647.0" x2="657.50" y2="651.8" stroke="#222" stroke-width="1"/>
<text class="t" x="657.50" y="638.0" text-anchor="middle">300</text>
<line x1="395.00" y1="1140.5" x2="395.00" y2="1145.3" stroke="#222" stroke-width="1"/>
<text class="t" x="394.80" y="1165.7" text-anchor="middle">0</text>
<line x1="526.25" y1="1140.5" x2="526.25" y2="1145.3" stroke="#222" stroke-width="1"/>
<text class="t" x="528.25" y="1165.7" text-anchor="middle">6,000</text>
<line x1="657.50" y1="1140.5" x2="657.50" y2="1145.3" stroke="#222" stroke-width="1"/>
<text class="t" x="659.50" y="1165.7" text-anchor="middle">12,000</text>
<text class="t" x="380.4" y="656.6" text-anchor="end">0</text>
<text class="t" x="380.4" y="710.9" text-anchor="end">2</text>
<text class="t" x="380.4" y="765.2" text-anchor="end">4</text>
<text class="t" x="380.4" y="819.5" text-anchor="end">6</text>
<text class="t" x="380.4" y="873.8" text-anchor="end">8</text>
<text class="t" x="380.4" y="928.1" text-anchor="end">10</text>
<text class="t" x="380.4" y="982.4" text-anchor="end">12</text>
<text class="t" x="380.4" y="1036.7" text-anchor="end">14</text>
<text class="t" x="380.4" y="1091.0" text-anchor="end">16</text>
<text class="t" x="380.4" y="1145.3" text-anchor="end">18</text>
<text class="b" font-size="12.5" x="525.9" y="618.2" text-anchor="middle">%RE</text>
<text class="b" font-size="16" x="516.8" y="1191.0" text-anchor="middle">TPH (mg/kg)</text>
<text class="b" font-size="16" transform="translate(354.8,895.5) rotate(-90)" text-anchor="middle">Depth (m)</text>
<text class="tag" transform="translate(619.5,677.8) scale(1,1.13)">(d)</text>
<circle cx="395.2" cy="763.9" r="5.1" fill="#6890c9" fill-opacity="0.9" stroke="#17293f" stroke-width="1.25"/>
<circle cx="395.2" cy="767.4" r="5.1" fill="#6890c9" fill-opacity="0.9" stroke="#17293f" stroke-width="1.25"/>
<circle cx="395.2" cy="771.5" r="5.1" fill="#6890c9" fill-opacity="0.9" stroke="#17293f" stroke-width="1.25"/>
<circle cx="395.2" cy="776.2" r="5.1" fill="#6890c9" fill-opacity="0.9" stroke="#17293f" stroke-width="1.25"/>
<circle cx="395.2" cy="780.2" r="5.1" fill="#6890c9" fill-opacity="0.9" stroke="#17293f" stroke-width="1.25"/>
<circle cx="394.6" cy="787.8" r="5.1" fill="#6890c9" fill-opacity="0.9" stroke="#17293f" stroke-width="1.25"/>
<circle cx="397.7" cy="792.9" r="5.1" fill="#6890c9" fill-opacity="0.9" stroke="#17293f" stroke-width="1.25"/>
<circle cx="397.7" cy="804.8" r="5.1" fill="#6890c9" fill-opacity="0.9" stroke="#17293f" stroke-width="1.25"/>
<circle cx="395.2" cy="808.9" r="5.1" fill="#6890c9" fill-opacity="0.9" stroke="#17293f" stroke-width="1.25"/>
<circle cx="395.2" cy="812.3" r="5.1" fill="#6890c9" fill-opacity="0.9" stroke="#17293f" stroke-width="1.25"/>
<circle cx="395.2" cy="816.4" r="5.1" fill="#6890c9" fill-opacity="0.9" stroke="#17293f" stroke-width="1.25"/>
<circle cx="395.2" cy="820.5" r="5.1" fill="#6890c9" fill-opacity="0.9" stroke="#17293f" stroke-width="1.25"/>
<circle cx="395.2" cy="824.6" r="5.1" fill="#6890c9" fill-opacity="0.9" stroke="#17293f" stroke-width="1.25"/>
<circle cx="395.2" cy="828.7" r="5.1" fill="#6890c9" fill-opacity="0.9" stroke="#17293f" stroke-width="1.25"/>
<circle cx="395.2" cy="830.3" r="5.1" fill="#6890c9" fill-opacity="0.9" stroke="#17293f" stroke-width="1.25"/>
<circle cx="416.1" cy="857.5" r="5.1" fill="#6890c9" fill-opacity="0.9" stroke="#17293f" stroke-width="1.25"/>
<circle cx="399.5" cy="861.7" r="5.1" fill="#6890c9" fill-opacity="0.9" stroke="#17293f" stroke-width="1.25"/>
<circle cx="406.0" cy="865.7" r="5.1" fill="#6890c9" fill-opacity="0.9" stroke="#17293f" stroke-width="1.25"/>
<circle cx="400.2" cy="869.2" r="5.1" fill="#6890c9" fill-opacity="0.9" stroke="#17293f" stroke-width="1.25"/>
<circle cx="397.1" cy="874.3" r="5.1" fill="#6890c9" fill-opacity="0.9" stroke="#17293f" stroke-width="1.25"/>
<circle cx="410.7" cy="878.1" r="5.1" fill="#6890c9" fill-opacity="0.9" stroke="#17293f" stroke-width="1.25"/>
<circle cx="455.1" cy="882.7" r="5.1" fill="#6890c9" fill-opacity="0.9" stroke="#17293f" stroke-width="1.25"/>
<circle cx="433.4" cy="886.3" r="5.1" fill="#6890c9" fill-opacity="0.9" stroke="#17293f" stroke-width="1.25"/>
<circle cx="455.8" cy="891.9" r="5.1" fill="#6890c9" fill-opacity="0.9" stroke="#17293f" stroke-width="1.25"/>
<circle cx="435.2" cy="894.9" r="5.1" fill="#6890c9" fill-opacity="0.9" stroke="#17293f" stroke-width="1.25"/>
<circle cx="440.9" cy="898.5" r="5.1" fill="#6890c9" fill-opacity="0.9" stroke="#17293f" stroke-width="1.25"/>
<circle cx="423.0" cy="903.5" r="5.1" fill="#6890c9" fill-opacity="0.9" stroke="#17293f" stroke-width="1.25"/>
<circle cx="431.7" cy="903.9" r="5.1" fill="#6890c9" fill-opacity="0.9" stroke="#17293f" stroke-width="1.25"/>
<circle cx="412.8" cy="909.7" r="5.1" fill="#6890c9" fill-opacity="0.9" stroke="#17293f" stroke-width="1.25"/>
<circle cx="435.1" cy="919.1" r="5.1" fill="#6890c9" fill-opacity="0.9" stroke="#17293f" stroke-width="1.25"/>
<circle cx="424.9" cy="922.0" r="5.1" fill="#6890c9" fill-opacity="0.9" stroke="#17293f" stroke-width="1.25"/>
<circle cx="428.9" cy="926.7" r="5.1" fill="#6890c9" fill-opacity="0.9" stroke="#17293f" stroke-width="1.25"/>
<circle cx="488.8" cy="930.9" r="5.1" fill="#6890c9" fill-opacity="0.9" stroke="#17293f" stroke-width="1.25"/>
<circle cx="456.1" cy="937.9" r="5.1" fill="#6890c9" fill-opacity="0.9" stroke="#17293f" stroke-width="1.25"/>
<circle cx="428.3" cy="937.9" r="5.1" fill="#6890c9" fill-opacity="0.9" stroke="#17293f" stroke-width="1.25"/>
<circle cx="424.2" cy="942.8" r="5.1" fill="#6890c9" fill-opacity="0.9" stroke="#17293f" stroke-width="1.25"/>
<circle cx="417.7" cy="949.3" r="5.1" fill="#6890c9" fill-opacity="0.9" stroke="#17293f" stroke-width="1.25"/>
<circle cx="473.3" cy="947.9" r="5.1" fill="#6890c9" fill-opacity="0.9" stroke="#17293f" stroke-width="1.25"/>
<circle cx="419.7" cy="959.3" r="5.1" fill="#6890c9" fill-opacity="0.9" stroke="#17293f" stroke-width="1.25"/>
<circle cx="417.7" cy="967.5" r="5.1" fill="#6890c9" fill-opacity="0.9" stroke="#17293f" stroke-width="1.25"/>
<circle cx="434.1" cy="967.5" r="5.1" fill="#6890c9" fill-opacity="0.9" stroke="#17293f" stroke-width="1.25"/>
<circle cx="407.5" cy="976.1" r="5.1" fill="#6890c9" fill-opacity="0.9" stroke="#17293f" stroke-width="1.25"/>
<circle cx="417.7" cy="980.2" r="5.1" fill="#6890c9" fill-opacity="0.9" stroke="#17293f" stroke-width="1.25"/>
<circle cx="545.3" cy="996.7" r="5.1" fill="#6890c9" fill-opacity="0.9" stroke="#17293f" stroke-width="1.25"/>
<circle cx="596.8" cy="997.7" r="5.1" fill="#6890c9" fill-opacity="0.9" stroke="#17293f" stroke-width="1.25"/>
<circle cx="609.1" cy="1000.7" r="5.1" fill="#6890c9" fill-opacity="0.9" stroke="#17293f" stroke-width="1.25"/>
<circle cx="508.6" cy="1004.7" r="5.1" fill="#6890c9" fill-opacity="0.9" stroke="#17293f" stroke-width="1.25"/>
<circle cx="549.3" cy="1011.0" r="5.1" fill="#6890c9" fill-opacity="0.9" stroke="#17293f" stroke-width="1.25"/>
<circle cx="460.0" cy="1012.1" r="5.1" fill="#6890c9" fill-opacity="0.9" stroke="#17293f" stroke-width="1.25"/>
<circle cx="509.4" cy="1025.3" r="5.1" fill="#6890c9" fill-opacity="0.9" stroke="#17293f" stroke-width="1.25"/>
<circle cx="546.3" cy="1031.3" r="5.1" fill="#6890c9" fill-opacity="0.9" stroke="#17293f" stroke-width="1.25"/>
<circle cx="593.6" cy="1032.3" r="5.1" fill="#6890c9" fill-opacity="0.9" stroke="#17293f" stroke-width="1.25"/>
<circle cx="456.8" cy="1046.0" r="5.1" fill="#6890c9" fill-opacity="0.9" stroke="#17293f" stroke-width="1.25"/>
<circle cx="487.9" cy="1045.0" r="5.1" fill="#6890c9" fill-opacity="0.9" stroke="#17293f" stroke-width="1.25"/>
<circle cx="588.3" cy="1056.0" r="5.1" fill="#6890c9" fill-opacity="0.9" stroke="#17293f" stroke-width="1.25"/>
<circle cx="422.9" cy="1065.8" r="5.1" fill="#6890c9" fill-opacity="0.9" stroke="#17293f" stroke-width="1.25"/>
<circle cx="398.5" cy="1079.8" r="5.1" fill="#6890c9" fill-opacity="0.9" stroke="#17293f" stroke-width="1.25"/>
</g>
<g id="legend"><line x1="65.5" y1="69.7" x2="102" y2="69.7" stroke="#ff0000" stroke-width="2.6" stroke-linecap="round"/>
<text class="lg" transform="translate(105.4,73.7) scale(1,1.1)">%RE</text>
<circle cx="83.8" cy="92.6" r="4.3" fill="#6890c9" stroke="#17293f" stroke-width="1.25"/>
<text class="lg" transform="translate(105.8,96.8) scale(1.02,1.1)">TPH</text></g>
</svg></body></html>
